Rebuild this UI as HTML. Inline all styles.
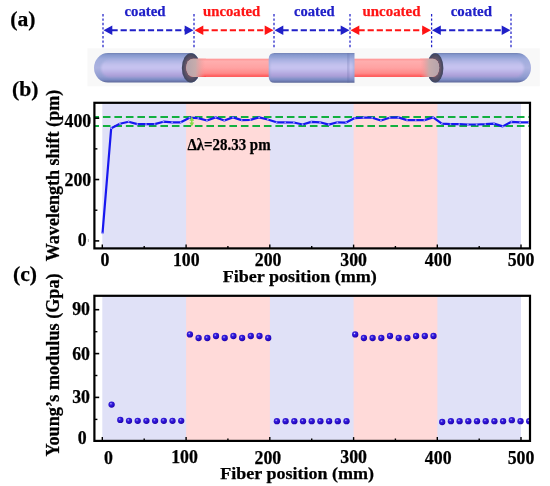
<!DOCTYPE html>
<html><head><meta charset="utf-8"><title>Fiber figure</title>
<style>
html,body{margin:0;padding:0;background:#fff;}
svg{display:block;filter:blur(0.35px)}
text{font-family:"Liberation Serif","Times New Roman",serif;font-weight:bold;stroke-width:0.25px;}
</style></head><body>
<svg width="550" height="486" viewBox="0 0 550 486">
<defs>
<linearGradient id="coat" x1="0" y1="0" x2="0" y2="1">
 <stop offset="0" stop-color="#7282b4"/>
 <stop offset="0.06" stop-color="#8698ce"/>
 <stop offset="0.2" stop-color="#a0acdc"/>
 <stop offset="0.5" stop-color="#acb2e0"/>
 <stop offset="0.8" stop-color="#909cd0"/>
 <stop offset="0.9" stop-color="#7c8cc4"/>
 <stop offset="0.96" stop-color="#6874a8"/>
 <stop offset="1" stop-color="#5c6898"/>
</linearGradient>
<linearGradient id="inner" x1="0" y1="0" x2="0" y2="1">
 <stop offset="0" stop-color="#a8aee0"/>
 <stop offset="0.12" stop-color="#b4b8e8"/>
 <stop offset="0.3" stop-color="#cac6f2"/>
 <stop offset="0.5" stop-color="#cec8f4"/>
 <stop offset="0.68" stop-color="#c2b6ea"/>
 <stop offset="0.88" stop-color="#b6a2dc"/>
 <stop offset="1" stop-color="#a896d2"/>
</linearGradient>
<radialGradient id="ring" cx="0.5" cy="0.5" r="0.5">
 <stop offset="0" stop-color="#846870"/>
 <stop offset="0.55" stop-color="#6c5868"/>
 <stop offset="1" stop-color="#3c4460"/>
</radialGradient>
<linearGradient id="core" x1="0" y1="0" x2="0" y2="1">
 <stop offset="0" stop-color="#ff9292"/>
 <stop offset="0.14" stop-color="#ffaeae"/>
 <stop offset="0.5" stop-color="#ffa2a2"/>
 <stop offset="0.8" stop-color="#ff8a8a"/>
 <stop offset="0.93" stop-color="#ff6464"/>
 <stop offset="1" stop-color="#ff4646"/>
</linearGradient>
<linearGradient id="fadeL" gradientUnits="userSpaceOnUse" x1="186" y1="0" x2="205" y2="0">
 <stop offset="0" stop-color="#b4a4ac" stop-opacity="1"/>
 <stop offset="0.5" stop-color="#c4acac" stop-opacity="0.95"/>
 <stop offset="0.72" stop-color="#d8a4a4" stop-opacity="0.6"/>
 <stop offset="1" stop-color="#f09898" stop-opacity="0"/>
</linearGradient>
<linearGradient id="fadeR" gradientUnits="userSpaceOnUse" x1="439.5" y1="0" x2="420.5" y2="0">
 <stop offset="0" stop-color="#b4a4ac" stop-opacity="1"/>
 <stop offset="0.55" stop-color="#c4acac" stop-opacity="0.95"/>
 <stop offset="0.75" stop-color="#d8a4a4" stop-opacity="0.6"/>
 <stop offset="1" stop-color="#f09898" stop-opacity="0"/>
</linearGradient>
<radialGradient id="ball" cx="0.39" cy="0.36" r="0.66">
 <stop offset="0" stop-color="#dcd0ff"/>
 <stop offset="0.12" stop-color="#8474f0"/>
 <stop offset="0.3" stop-color="#3420dc"/>
 <stop offset="0.75" stop-color="#260ac8"/>
 <stop offset="1" stop-color="#1c00a0"/>
</radialGradient>
<filter id="b1" x="-5%" y="-20%" width="110%" height="140%"><feGaussianBlur stdDeviation="0.6"/></filter>
<filter id="b3" x="-5%" y="-30%" width="110%" height="160%"><feGaussianBlur stdDeviation="0.8"/></filter>
<filter id="b2" x="-5%" y="-30%" width="110%" height="160%"><feGaussianBlur stdDeviation="1.6"/></filter>
<clipPath id="clipc"><rect x="95" y="296" width="435" height="145"/></clipPath>
</defs>
<rect width="550" height="486" fill="#fff"/>

<rect x="87.4" y="48.3" width="452.4" height="38" fill="#f8f8f8"/>
<g filter="url(#b1)">
<rect x="194" y="58.7" width="78" height="18.2" fill="url(#core)"/>
<rect x="352" y="58.7" width="82" height="18.2" fill="url(#core)"/>
<path d="M108,53.1 H191 A9.2,14.75 0 0 1 191,82.6 H108 A14,14.75 0 0 1 108,53.1 Z" fill="url(#coat)"/>
<path d="M274.5,53 H354.5 V82.8 H274.5 Q268.7,82.8 268.7,76.8 V59 Q268.7,53 274.5,53 Z" fill="url(#coat)"/>
<path d="M435,53.1 H517 A14,14.75 0 0 1 517,82.6 H435 A8,14.75 0 0 1 435,53.1 Z" fill="url(#coat)"/>
</g>
<g filter="url(#b3)" opacity="0.8">
<rect x="101" y="59.3" width="92" height="18" rx="9" fill="url(#inner)"/>
<rect x="270" y="59.3" width="83" height="18" fill="url(#inner)"/>
<rect x="432" y="59.3" width="92" height="18" rx="9" fill="url(#inner)"/>
</g>
<rect x="347" y="53" width="2.5" height="29.8" fill="#5a64a0" opacity="0.2"/>
<g filter="url(#b1)">
<ellipse cx="191" cy="67.9" rx="9.2" ry="14.6" fill="url(#ring)"/>
<path d="M193,58.7 H206 V76.9 H193 A6.8,9.1 0 0 1 193,58.7 Z" fill="url(#core)"/>
<path d="M193,58.7 H206 V76.9 H193 A6.8,9.1 0 0 1 193,58.7 Z" fill="url(#fadeL)"/>
<ellipse cx="435.2" cy="67.9" rx="8.2" ry="14.6" fill="url(#ring)"/>
<path d="M433,58.7 H420 V76.9 H433 A6.2,9.1 0 0 0 433,58.7 Z" fill="url(#core)"/>
<path d="M433,58.7 H420 V76.9 H433 A6.2,9.1 0 0 0 433,58.7 Z" fill="url(#fadeR)"/>
</g>
<line x1="103" y1="14" x2="103" y2="48" stroke="#2020c8" stroke-width="1.25" stroke-dasharray="2.4,2"/>
<line x1="194" y1="14" x2="194" y2="48" stroke="#2020c8" stroke-width="1.25" stroke-dasharray="2.4,2"/>
<line x1="274" y1="14" x2="274" y2="48" stroke="#2020c8" stroke-width="1.25" stroke-dasharray="2.4,2"/>
<line x1="350" y1="14" x2="350" y2="48" stroke="#2020c8" stroke-width="1.25" stroke-dasharray="2.4,2"/>
<line x1="431.6" y1="14" x2="431.6" y2="48" stroke="#2020c8" stroke-width="1.25" stroke-dasharray="2.4,2"/>
<line x1="511" y1="14" x2="511" y2="48" stroke="#2020c8" stroke-width="1.25" stroke-dasharray="2.4,2"/>
<line x1="111.5" y1="30.2" x2="185.5" y2="30.2" stroke="#2020c8" stroke-width="1.9" stroke-dasharray="6.2,2.9"/>
<path d="M103.5,30.2 L112.3,25.5 L112.3,34.9 Z" fill="#2020c8"/>
<path d="M193.5,30.2 L184.7,25.5 L184.7,34.9 Z" fill="#2020c8"/>
<line x1="202.5" y1="30.2" x2="265.5" y2="30.2" stroke="#ff1414" stroke-width="1.9" stroke-dasharray="6.2,2.9"/>
<path d="M194.5,30.2 L203.3,25.5 L203.3,34.9 Z" fill="#ff1414"/>
<path d="M273.5,30.2 L264.7,25.5 L264.7,34.9 Z" fill="#ff1414"/>
<line x1="282.5" y1="30.2" x2="341.5" y2="30.2" stroke="#2020c8" stroke-width="1.9" stroke-dasharray="6.2,2.9"/>
<path d="M274.5,30.2 L283.3,25.5 L283.3,34.9 Z" fill="#2020c8"/>
<path d="M349.5,30.2 L340.7,25.5 L340.7,34.9 Z" fill="#2020c8"/>
<line x1="358.5" y1="30.2" x2="423" y2="30.2" stroke="#ff1414" stroke-width="1.9" stroke-dasharray="6.2,2.9"/>
<path d="M350.5,30.2 L359.3,25.5 L359.3,34.9 Z" fill="#ff1414"/>
<path d="M431,30.2 L422.2,25.5 L422.2,34.9 Z" fill="#ff1414"/>
<line x1="440" y1="30.2" x2="502.5" y2="30.2" stroke="#2020c8" stroke-width="1.9" stroke-dasharray="6.2,2.9"/>
<path d="M432,30.2 L440.8,25.5 L440.8,34.9 Z" fill="#2020c8"/>
<path d="M510.5,30.2 L501.7,25.5 L501.7,34.9 Z" fill="#2020c8"/>
<text x="124.5" y="15.6" font-size="15.2" fill="#2020c8" textLength="41" lengthAdjust="spacingAndGlyphs" stroke="#2020c8">coated</text>
<text x="203" y="15.6" font-size="15.2" fill="#ff1414" textLength="57.3" lengthAdjust="spacingAndGlyphs" stroke="#ff1414">uncoated</text>
<text x="294" y="15.6" font-size="15.2" fill="#2020c8" textLength="40.5" lengthAdjust="spacingAndGlyphs" stroke="#2020c8">coated</text>
<text x="362.5" y="15.6" font-size="15.2" fill="#ff1414" textLength="58" lengthAdjust="spacingAndGlyphs" stroke="#ff1414">uncoated</text>
<text x="450.7" y="15.6" font-size="15.2" fill="#2020c8" textLength="41.3" lengthAdjust="spacingAndGlyphs" stroke="#2020c8">coated</text>
<text x="10.2" y="26.2" font-size="21.6" fill="#000" stroke="#000">(a)</text>
<text x="12.1" y="96.4" font-size="21.6" fill="#000" stroke="#000">(b)</text>
<text x="13.1" y="281.2" font-size="21.6" fill="#000" stroke="#000">(c)</text>
<rect x="102.3" y="102.8" width="418.7" height="145.60000000000002" fill="#e0e1f7"/>
<rect x="186.1" y="102.8" width="83.8" height="145.60000000000002" fill="#ffdad9"/>
<rect x="353.6" y="102.8" width="83.8" height="145.60000000000002" fill="#ffdad9"/>
<line x1="94.4" y1="117" x2="530" y2="117" stroke="#12b040" stroke-width="1.8" stroke-dasharray="7.6,3.9" stroke-dashoffset="3"/>
<line x1="94.4" y1="126" x2="530" y2="126" stroke="#12b040" stroke-width="1.8" stroke-dasharray="7.6,3.9" stroke-dashoffset="3"/>
<polyline points="102.5,233.3 111.2,128.2 119.9,123.7 128.6,121.7 137.3,124.1 146.0,124.1 154.7,124.1 163.4,121.7 172.1,122.3 180.8,122.3 189.5,117.7 198.2,118.1 206.9,120.5 215.6,117.4 224.3,120.5 233.0,117.4 241.7,120.1 250.4,119.9 259.1,117.4 267.8,119.5 276.5,122.3 285.2,122.3 293.9,122.5 302.6,124.5 311.3,121.9 320.0,122.3 328.7,124.6 337.4,122.3 346.1,122.6 354.8,118.1 363.5,117.7 372.2,117.7 380.9,120.5 389.6,117.7 398.3,117.4 407.0,120.1 415.7,120.1 424.4,120.1 433.1,117.4 441.8,123.7 450.5,124.1 459.2,124.1 467.9,124.5 476.6,124.5 485.3,124.2 494.0,123.6 502.7,126.4 511.4,121.8 520.1,122.3 528.8,122.3" fill="none" stroke="#1818f0" stroke-width="2.2" stroke-linejoin="round"/>
<circle cx="102.5" cy="233.3" r="0.9" fill="#9a9aff"/>
<circle cx="111.2" cy="128.2" r="0.9" fill="#9a9aff"/>
<circle cx="119.9" cy="123.7" r="0.9" fill="#9a9aff"/>
<circle cx="128.6" cy="121.7" r="0.9" fill="#9a9aff"/>
<circle cx="137.3" cy="124.1" r="0.9" fill="#9a9aff"/>
<circle cx="146.0" cy="124.1" r="0.9" fill="#9a9aff"/>
<circle cx="154.7" cy="124.1" r="0.9" fill="#9a9aff"/>
<circle cx="163.4" cy="121.7" r="0.9" fill="#9a9aff"/>
<circle cx="172.1" cy="122.3" r="0.9" fill="#9a9aff"/>
<circle cx="180.8" cy="122.3" r="0.9" fill="#9a9aff"/>
<circle cx="189.5" cy="117.7" r="0.9" fill="#9a9aff"/>
<circle cx="198.2" cy="118.1" r="0.9" fill="#9a9aff"/>
<circle cx="206.9" cy="120.5" r="0.9" fill="#9a9aff"/>
<circle cx="215.6" cy="117.4" r="0.9" fill="#9a9aff"/>
<circle cx="224.3" cy="120.5" r="0.9" fill="#9a9aff"/>
<circle cx="233.0" cy="117.4" r="0.9" fill="#9a9aff"/>
<circle cx="241.7" cy="120.1" r="0.9" fill="#9a9aff"/>
<circle cx="250.4" cy="119.9" r="0.9" fill="#9a9aff"/>
<circle cx="259.1" cy="117.4" r="0.9" fill="#9a9aff"/>
<circle cx="267.8" cy="119.5" r="0.9" fill="#9a9aff"/>
<circle cx="276.5" cy="122.3" r="0.9" fill="#9a9aff"/>
<circle cx="285.2" cy="122.3" r="0.9" fill="#9a9aff"/>
<circle cx="293.9" cy="122.5" r="0.9" fill="#9a9aff"/>
<circle cx="302.6" cy="124.5" r="0.9" fill="#9a9aff"/>
<circle cx="311.3" cy="121.9" r="0.9" fill="#9a9aff"/>
<circle cx="320.0" cy="122.3" r="0.9" fill="#9a9aff"/>
<circle cx="328.7" cy="124.6" r="0.9" fill="#9a9aff"/>
<circle cx="337.4" cy="122.3" r="0.9" fill="#9a9aff"/>
<circle cx="346.1" cy="122.6" r="0.9" fill="#9a9aff"/>
<circle cx="354.8" cy="118.1" r="0.9" fill="#9a9aff"/>
<circle cx="363.5" cy="117.7" r="0.9" fill="#9a9aff"/>
<circle cx="372.2" cy="117.7" r="0.9" fill="#9a9aff"/>
<circle cx="380.9" cy="120.5" r="0.9" fill="#9a9aff"/>
<circle cx="389.6" cy="117.7" r="0.9" fill="#9a9aff"/>
<circle cx="398.3" cy="117.4" r="0.9" fill="#9a9aff"/>
<circle cx="407.0" cy="120.1" r="0.9" fill="#9a9aff"/>
<circle cx="415.7" cy="120.1" r="0.9" fill="#9a9aff"/>
<circle cx="424.4" cy="120.1" r="0.9" fill="#9a9aff"/>
<circle cx="433.1" cy="117.4" r="0.9" fill="#9a9aff"/>
<circle cx="441.8" cy="123.7" r="0.9" fill="#9a9aff"/>
<circle cx="450.5" cy="124.1" r="0.9" fill="#9a9aff"/>
<circle cx="459.2" cy="124.1" r="0.9" fill="#9a9aff"/>
<circle cx="467.9" cy="124.5" r="0.9" fill="#9a9aff"/>
<circle cx="476.6" cy="124.5" r="0.9" fill="#9a9aff"/>
<circle cx="485.3" cy="124.2" r="0.9" fill="#9a9aff"/>
<circle cx="494.0" cy="123.6" r="0.9" fill="#9a9aff"/>
<circle cx="502.7" cy="126.4" r="0.9" fill="#9a9aff"/>
<circle cx="511.4" cy="121.8" r="0.9" fill="#9a9aff"/>
<circle cx="520.1" cy="122.3" r="0.9" fill="#9a9aff"/>
<circle cx="528.8" cy="122.3" r="0.9" fill="#9a9aff"/>
<path d="M191.8,116.6 L189.4,120.8 L191.10000000000002,120.8 L191.10000000000002,122.4 L189.4,122.4 L191.8,126.6 L194.20000000000002,122.4 L192.5,122.4 L192.5,120.8 L194.20000000000002,120.8 Z" fill="#84dc44"/>
<rect x="94.4" y="102.8" width="435.6" height="145.60000000000002" fill="none" stroke="#000" stroke-width="2.2"/>
<line x1="94.4" y1="240.9" x2="99.2" y2="240.9" stroke="#000" stroke-width="1.6"/>
<line x1="94.4" y1="179.54" x2="99.2" y2="179.54" stroke="#000" stroke-width="1.6"/>
<line x1="94.4" y1="118.17999999999999" x2="99.2" y2="118.17999999999999" stroke="#000" stroke-width="1.6"/>
<line x1="94.4" y1="210.22" x2="97.4" y2="210.22" stroke="#000" stroke-width="1.4"/>
<line x1="94.4" y1="148.86" x2="97.4" y2="148.86" stroke="#000" stroke-width="1.4"/>
<line x1="102.3" y1="248.4" x2="102.3" y2="244.6" stroke="#000" stroke-width="1.4"/>
<line x1="144.2" y1="248.4" x2="144.2" y2="246.0" stroke="#000" stroke-width="1.4"/>
<line x1="186.1" y1="248.4" x2="186.1" y2="244.6" stroke="#000" stroke-width="1.4"/>
<line x1="227.9" y1="248.4" x2="227.9" y2="246.0" stroke="#000" stroke-width="1.4"/>
<line x1="269.8" y1="248.4" x2="269.8" y2="244.6" stroke="#000" stroke-width="1.4"/>
<line x1="311.7" y1="248.4" x2="311.7" y2="246.0" stroke="#000" stroke-width="1.4"/>
<line x1="353.6" y1="248.4" x2="353.6" y2="244.6" stroke="#000" stroke-width="1.4"/>
<line x1="395.4" y1="248.4" x2="395.4" y2="246.0" stroke="#000" stroke-width="1.4"/>
<line x1="437.3" y1="248.4" x2="437.3" y2="244.6" stroke="#000" stroke-width="1.4"/>
<line x1="479.2" y1="248.4" x2="479.2" y2="246.0" stroke="#000" stroke-width="1.4"/>
<line x1="521.0" y1="248.4" x2="521.0" y2="244.6" stroke="#000" stroke-width="1.4"/>
<text x="91.2" y="185.8" font-size="17.8" text-anchor="end" stroke="#000">200</text>
<text x="91.2" y="127.2" font-size="17.8" text-anchor="end" stroke="#000">400</text>
<text x="86.6" y="245.5" font-size="17.8" text-anchor="end" stroke="#000">0</text>
<rect x="87.9" y="239" width="0.8" height="3" fill="#999"/>
<text x="105" y="265.6" font-size="17.8" text-anchor="middle" stroke="#000">0</text>
<text x="186.3" y="265.6" font-size="17.8" text-anchor="middle" stroke="#000">100</text>
<text x="268.1" y="265.6" font-size="17.8" text-anchor="middle" stroke="#000">200</text>
<text x="353.6" y="265.6" font-size="17.8" text-anchor="middle" stroke="#000">300</text>
<text x="438.2" y="265.6" font-size="17.8" text-anchor="middle" stroke="#000">400</text>
<text x="521" y="265.6" font-size="17.8" text-anchor="middle" stroke="#000">500</text>
<text x="222.8" y="282.4" font-size="17.2" textLength="154" lengthAdjust="spacingAndGlyphs" stroke="#000">Fiber position (mm)</text>
<text transform="translate(58.6,261.2) rotate(-90)" font-size="18.2" textLength="171.4" lengthAdjust="spacingAndGlyphs" stroke="#000">Wavelength shift (pm)</text>
<text x="187.4" y="149.5" font-size="16" textLength="83.2" lengthAdjust="spacingAndGlyphs" stroke="#000">Δλ=28.33 pm</text>
<rect x="102.3" y="295.8" width="418.7" height="145.09999999999997" fill="#e0e1f7"/>
<rect x="186.1" y="295.8" width="83.8" height="145.09999999999997" fill="#ffdad9"/>
<rect x="353.6" y="295.8" width="83.8" height="145.09999999999997" fill="#ffdad9"/>
<g clip-path="url(#clipc)">
<circle cx="111.6" cy="404.6" r="3.15" fill="url(#ball)"/>
<circle cx="120.3" cy="419.9" r="3.15" fill="url(#ball)"/>
<circle cx="129.0" cy="420.8" r="3.15" fill="url(#ball)"/>
<circle cx="137.7" cy="420.8" r="3.15" fill="url(#ball)"/>
<circle cx="146.4" cy="420.8" r="3.15" fill="url(#ball)"/>
<circle cx="155.1" cy="420.8" r="3.15" fill="url(#ball)"/>
<circle cx="163.8" cy="420.8" r="3.15" fill="url(#ball)"/>
<circle cx="172.5" cy="420.8" r="3.15" fill="url(#ball)"/>
<circle cx="181.2" cy="420.8" r="3.15" fill="url(#ball)"/>
<circle cx="189.9" cy="334.4" r="3.15" fill="url(#ball)"/>
<circle cx="198.6" cy="338.0" r="3.15" fill="url(#ball)"/>
<circle cx="207.3" cy="338.0" r="3.15" fill="url(#ball)"/>
<circle cx="216.0" cy="336.0" r="3.15" fill="url(#ball)"/>
<circle cx="224.7" cy="338.0" r="3.15" fill="url(#ball)"/>
<circle cx="233.4" cy="336.0" r="3.15" fill="url(#ball)"/>
<circle cx="242.1" cy="338.0" r="3.15" fill="url(#ball)"/>
<circle cx="250.8" cy="336.0" r="3.15" fill="url(#ball)"/>
<circle cx="259.5" cy="336.0" r="3.15" fill="url(#ball)"/>
<circle cx="268.2" cy="338.0" r="3.15" fill="url(#ball)"/>
<circle cx="276.9" cy="421.2" r="3.15" fill="url(#ball)"/>
<circle cx="285.6" cy="421.2" r="3.15" fill="url(#ball)"/>
<circle cx="294.3" cy="421.2" r="3.15" fill="url(#ball)"/>
<circle cx="303.0" cy="421.2" r="3.15" fill="url(#ball)"/>
<circle cx="311.7" cy="421.2" r="3.15" fill="url(#ball)"/>
<circle cx="320.4" cy="421.2" r="3.15" fill="url(#ball)"/>
<circle cx="329.1" cy="421.2" r="3.15" fill="url(#ball)"/>
<circle cx="337.8" cy="421.2" r="3.15" fill="url(#ball)"/>
<circle cx="346.5" cy="421.2" r="3.15" fill="url(#ball)"/>
<circle cx="355.2" cy="334.4" r="3.15" fill="url(#ball)"/>
<circle cx="363.9" cy="338.0" r="3.15" fill="url(#ball)"/>
<circle cx="372.6" cy="338.0" r="3.15" fill="url(#ball)"/>
<circle cx="381.3" cy="338.0" r="3.15" fill="url(#ball)"/>
<circle cx="390.0" cy="336.0" r="3.15" fill="url(#ball)"/>
<circle cx="398.7" cy="338.0" r="3.15" fill="url(#ball)"/>
<circle cx="407.4" cy="338.0" r="3.15" fill="url(#ball)"/>
<circle cx="416.1" cy="336.0" r="3.15" fill="url(#ball)"/>
<circle cx="424.8" cy="336.0" r="3.15" fill="url(#ball)"/>
<circle cx="433.5" cy="336.0" r="3.15" fill="url(#ball)"/>
<circle cx="442.2" cy="422.0" r="3.15" fill="url(#ball)"/>
<circle cx="450.9" cy="421.2" r="3.15" fill="url(#ball)"/>
<circle cx="459.6" cy="421.2" r="3.15" fill="url(#ball)"/>
<circle cx="468.3" cy="421.2" r="3.15" fill="url(#ball)"/>
<circle cx="477.0" cy="421.2" r="3.15" fill="url(#ball)"/>
<circle cx="485.7" cy="421.2" r="3.15" fill="url(#ball)"/>
<circle cx="494.4" cy="421.2" r="3.15" fill="url(#ball)"/>
<circle cx="503.1" cy="421.2" r="3.15" fill="url(#ball)"/>
<circle cx="511.8" cy="420.2" r="3.15" fill="url(#ball)"/>
<circle cx="520.5" cy="421.2" r="3.15" fill="url(#ball)"/>
<circle cx="529.2" cy="421.2" r="3.15" fill="url(#ball)"/>
</g>
<rect x="94.4" y="295.8" width="435.6" height="145.09999999999997" fill="none" stroke="#000" stroke-width="2.2"/>
<line x1="94.4" y1="397.4" x2="99.2" y2="397.4" stroke="#000" stroke-width="1.6"/>
<line x1="94.4" y1="353.6" x2="99.2" y2="353.6" stroke="#000" stroke-width="1.6"/>
<line x1="94.4" y1="309.7" x2="99.2" y2="309.7" stroke="#000" stroke-width="1.6"/>
<line x1="94.4" y1="419.4" x2="97.4" y2="419.4" stroke="#000" stroke-width="1.4"/>
<line x1="94.4" y1="375.5" x2="97.4" y2="375.5" stroke="#000" stroke-width="1.4"/>
<line x1="94.4" y1="331.7" x2="97.4" y2="331.7" stroke="#000" stroke-width="1.4"/>
<line x1="102.3" y1="440.9" x2="102.3" y2="437.09999999999997" stroke="#000" stroke-width="1.4"/>
<line x1="144.2" y1="440.9" x2="144.2" y2="438.5" stroke="#000" stroke-width="1.4"/>
<line x1="186.1" y1="440.9" x2="186.1" y2="437.09999999999997" stroke="#000" stroke-width="1.4"/>
<line x1="227.9" y1="440.9" x2="227.9" y2="438.5" stroke="#000" stroke-width="1.4"/>
<line x1="269.8" y1="440.9" x2="269.8" y2="437.09999999999997" stroke="#000" stroke-width="1.4"/>
<line x1="311.7" y1="440.9" x2="311.7" y2="438.5" stroke="#000" stroke-width="1.4"/>
<line x1="353.6" y1="440.9" x2="353.6" y2="437.09999999999997" stroke="#000" stroke-width="1.4"/>
<line x1="395.4" y1="440.9" x2="395.4" y2="438.5" stroke="#000" stroke-width="1.4"/>
<line x1="437.3" y1="440.9" x2="437.3" y2="437.09999999999997" stroke="#000" stroke-width="1.4"/>
<line x1="479.2" y1="440.9" x2="479.2" y2="438.5" stroke="#000" stroke-width="1.4"/>
<line x1="521.0" y1="440.9" x2="521.0" y2="437.09999999999997" stroke="#000" stroke-width="1.4"/>
<text x="90" y="402.8" font-size="17.8" text-anchor="end" stroke="#000">30</text>
<text x="90" y="359.8" font-size="17.8" text-anchor="end" stroke="#000">60</text>
<text x="90" y="314.9" font-size="17.8" text-anchor="end" stroke="#000">90</text>
<text x="86.6" y="443.5" font-size="17.8" text-anchor="end" stroke="#000">0</text>
<text x="108.4" y="463.5" font-size="17.8" text-anchor="middle" stroke="#000">0</text>
<text x="184.5" y="462.8" font-size="17.8" text-anchor="middle" stroke="#000">100</text>
<text x="267.9" y="464.2" font-size="17.8" text-anchor="middle" stroke="#000">200</text>
<text x="353.6" y="463.4" font-size="17.8" text-anchor="middle" stroke="#000">300</text>
<text x="438.2" y="463.9" font-size="17.8" text-anchor="middle" stroke="#000">400</text>
<text x="521" y="463.9" font-size="17.8" text-anchor="middle" stroke="#000">500</text>
<text x="220.2" y="479" font-size="17.2" textLength="153.8" lengthAdjust="spacingAndGlyphs" stroke="#000">Fiber position (mm)</text>
<text transform="translate(58.6,456.6) rotate(-90)" font-size="18.2" textLength="183.2" lengthAdjust="spacingAndGlyphs" stroke="#000">Young’s modulus (Gpa)</text>
</svg></body></html>
